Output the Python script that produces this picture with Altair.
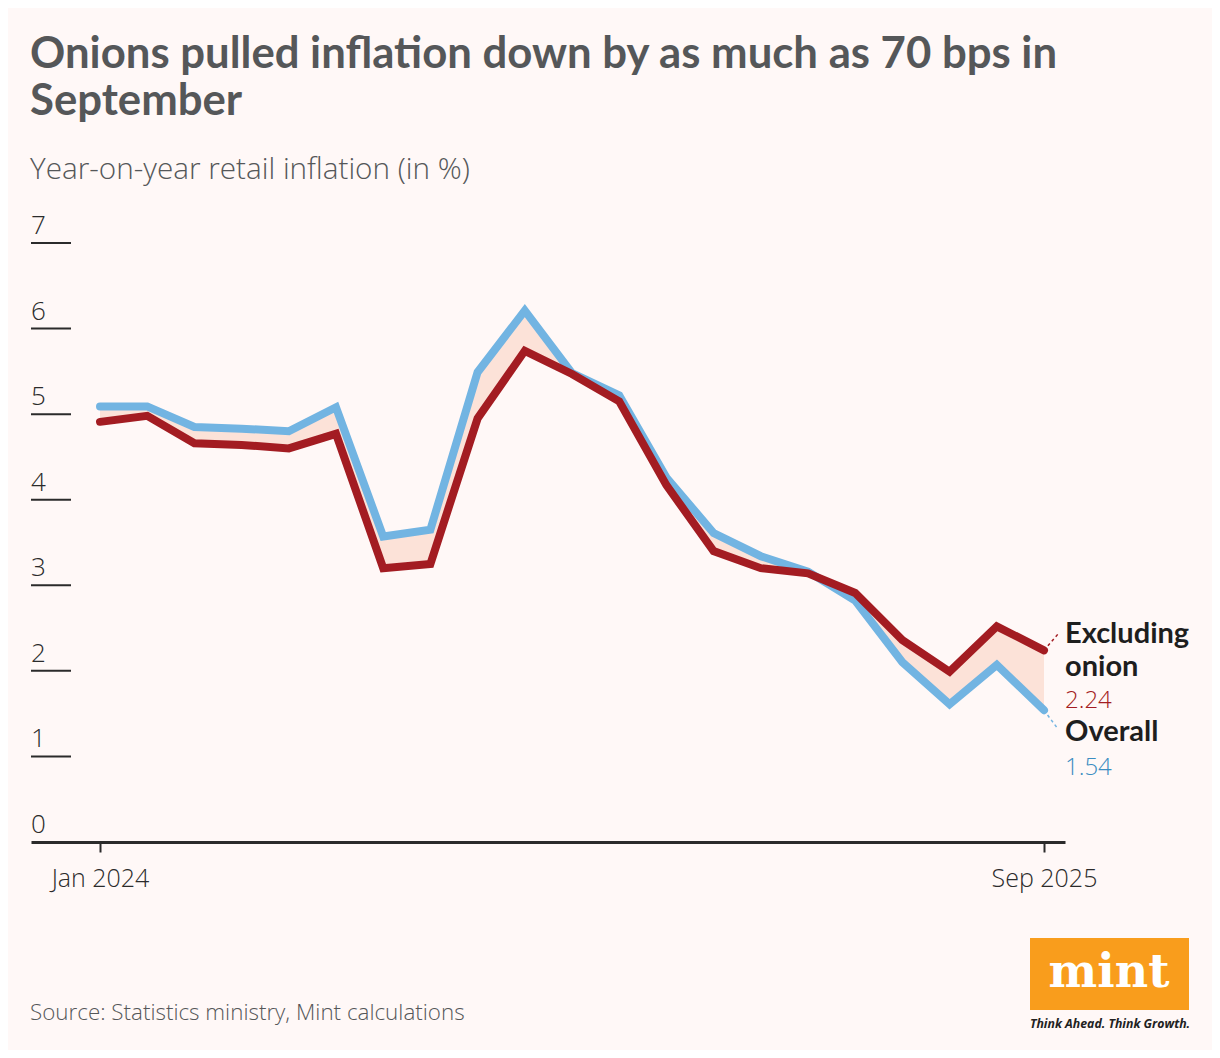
import altair as alt
import pandas as pd

months = ["Jan 2024", "Feb 2024", "Mar 2024", "Apr 2024", "May 2024", "Jun 2024",
          "Jul 2024", "Aug 2024", "Sep 2024", "Oct 2024", "Nov 2024", "Dec 2024",
          "Jan 2025", "Feb 2025", "Mar 2025", "Apr 2025", "May 2025", "Jun 2025",
          "Jul 2025", "Aug 2025", "Sep 2025"]
overall = [5.09, 5.09, 4.85, 4.83, 4.80, 5.08, 3.57, 3.65, 5.49, 6.21, 5.48, 5.22,
           4.26, 3.61, 3.34, 3.16, 2.82, 2.10, 1.61, 2.07, 1.54]
excl_onion = [4.91, 4.98, 4.66, 4.64, 4.60, 4.77, 3.20, 3.25, 4.95, 5.74, 5.47, 5.15,
              4.17, 3.40, 3.20, 3.14, 2.91, 2.36, 1.99, 2.52, 2.24]
y_ticks = [1, 2, 3, 4, 5, 6, 7]
y_labels = [0, 1, 2, 3, 4, 5, 6, 7]
x_ticks = [0, 20]

BG = "#FFF8F7"
BLUE = "#72B4E2"
RED = "#A31C22"
FILL = "#FCE2D8"
DARK = "#2B2B2B"
GREY = "#555759"
LIGHT_FONT = "Open Sans"
BOLD_FONT = "Lato"

W, H = 1034, 599

df = pd.DataFrame({"idx": list(range(len(months))), "month": months,
                   "overall": overall, "excl": excl_onion})

xscale = alt.Scale(domain=[-1.462, 20.445], nice=False, zero=False)
yscale = alt.Scale(domain=[0, 7], nice=False)

base = alt.Chart(df)

area = base.mark_area(color=FILL, opacity=1).encode(
    x=alt.X("idx:Q", scale=xscale,
            axis=alt.Axis(values=x_ticks, title=None, grid=False,
                          labelExpr="datum.value == 0 ? 'Jan 2024' : 'Sep 2025'",
                          labelFont=LIGHT_FONT, labelFontWeight=300, labelFontSize=25,
                          labelColor=DARK, labelPadding=14,
                          tickSize=10, tickWidth=2, tickColor=DARK,
                          domainColor=DARK, domainWidth=3)),
    y=alt.Y("overall:Q", scale=yscale, axis=None),
    y2="excl:Q",
)

line_o = base.mark_line(color=BLUE, strokeWidth=8, strokeCap="round").encode(
    x=alt.X("idx:Q", scale=xscale), y=alt.Y("overall:Q", scale=yscale))
line_e = base.mark_line(color=RED, strokeWidth=8, strokeCap="round").encode(
    x=alt.X("idx:Q", scale=xscale), y=alt.Y("excl:Q", scale=yscale))

last = df.iloc[[-1]]
conn_e = alt.Chart(last).mark_rule(color=RED, strokeWidth=1.5, strokeDash=[3, 3]).encode(
    x=alt.X("idx:Q", scale=xscale), y=alt.Y("excl:Q", scale=yscale),
    x2=alt.value(1027), y2=alt.value(391))
conn_o = alt.Chart(last).mark_rule(color=BLUE, strokeWidth=1.5, strokeDash=[3, 3]).encode(
    x=alt.X("idx:Q", scale=xscale), y=alt.Y("overall:Q", scale=yscale),
    x2=alt.value(1027), y2=alt.value(486))

grid = alt.Chart(pd.DataFrame({"v": y_ticks})).mark_rule(color=DARK, strokeWidth=2).encode(
    y=alt.Y("v:Q", scale=yscale), x=alt.value(0), x2=alt.value(40))
ylab = alt.Chart(pd.DataFrame({"v": y_labels})).mark_text(
    align="left", baseline="alphabetic", dy=-9, font=LIGHT_FONT, fontWeight=300,
    fontSize=26, color=DARK).encode(
    y=alt.Y("v:Q", scale=yscale), x=alt.value(0), text="v:Q")


def txt(t, x, y, size, color, weight="normal", font=LIGHT_FONT, align="left", style="normal"):
    return alt.Chart(pd.DataFrame({"t": [t]})).mark_text(
        align=align, baseline="alphabetic", fontSize=size, color=color,
        fontWeight=weight, font=font, fontStyle=style).encode(
        text="t:N", x=alt.value(x), y=alt.value(y))


title1 = txt("Onions pulled inflation down by as much as 70 bps in", -1, -175, 43.7, GREY, "bold", BOLD_FONT)
title2 = txt("September", -1, -128, 43.7, GREY, "bold", BOLD_FONT)
subtitle = txt("Year-on-year retail inflation (in %)", -1, -64, 29.7, GREY, 300)

lab_e1 = txt("Excluding", 1034, 400, 29, "#1E1E1E", "bold", BOLD_FONT)
lab_e2 = txt("onion", 1034, 433, 29, "#1E1E1E", "bold", BOLD_FONT)
lab_e3 = txt(f"{excl_onion[-1]:.2f}", 1034, 465, 24, RED, 300)
lab_o1 = txt("Overall", 1034, 498, 29, "#1E1E1E", "bold", BOLD_FONT)
lab_o2 = txt(f"{overall[-1]:.2f}", 1034, 532, 24, "#3A8DC2", 300)

source = txt("Source: Statistics ministry, Mint calculations", -1, 777, 22.4, GREY, 300)

logo_rect = alt.Chart(pd.DataFrame({"a": [1]})).mark_rect(color="#F99D1C").encode(
    x=alt.value(999), x2=alt.value(1158), y=alt.value(695), y2=alt.value(767))
logo_txt = txt("mint", 1078, 744, 46, "white", "bold", "DejaVu Serif", "center")
logo_tag = txt("Think Ahead. Think Growth.", 1079, 785, 12.3, "#222222", "bold", "Open Sans", "center", "italic")

chart = alt.layer(
    area, conn_e, conn_o, line_o, line_e, grid, ylab,
    title1, title2, subtitle, lab_e1, lab_e2, lab_e3, lab_o1, lab_o2,
    source, logo_rect, logo_txt, logo_tag
).properties(
    width=W, height=H, background=BG,
    padding={"left": 23, "top": 235, "right": 147, "bottom": 208},
    autosize=alt.AutoSizeParams(type="none"),
).configure_view(stroke=None, clip=False)

chart.save("out.html", embed_options={"renderer": "svg", "actions": False})
